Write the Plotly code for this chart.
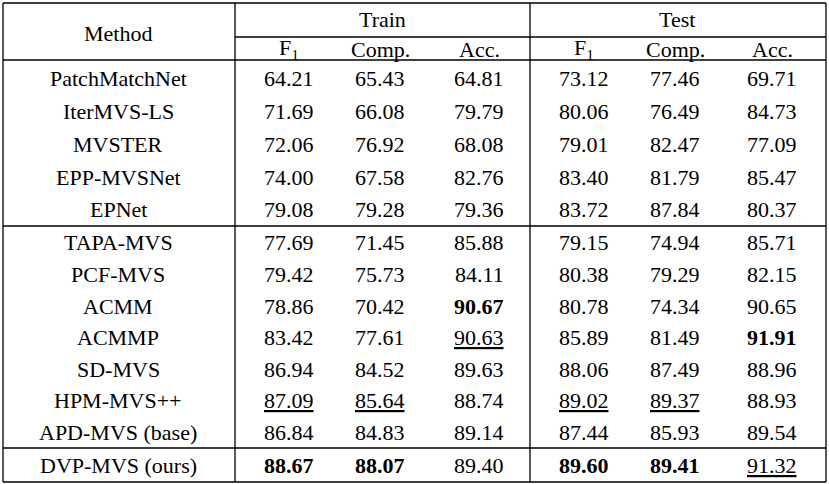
import plotly.graph_objects as go

methods = ["PatchMatchNet", "IterMVS-LS", "MVSTER", "EPP-MVSNet", "EPNet",
           "TAPA-MVS", "PCF-MVS", "ACMM", "ACMMP", "SD-MVS", "HPM-MVS++",
           "APD-MVS (base)", "DVP-MVS (ours)"]
train_f1 = [64.21, 71.69, 72.06, 74.00, 79.08, 77.69, 79.42, 78.86, 83.42, 86.94, 87.09, 86.84, 88.67]
train_comp = [65.43, 66.08, 76.92, 67.58, 79.28, 71.45, 75.73, 70.42, 77.61, 84.52, 85.64, 84.83, 88.07]
train_acc = [64.81, 79.79, 68.08, 82.76, 79.36, 85.88, 84.11, 90.67, 90.63, 89.63, 88.74, 89.14, 89.40]
test_f1 = [73.12, 80.06, 79.01, 83.40, 83.72, 79.15, 80.38, 80.78, 85.89, 88.06, 89.02, 87.44, 89.60]
test_comp = [77.46, 76.49, 82.47, 81.79, 87.84, 74.94, 79.29, 74.34, 81.49, 87.49, 89.37, 85.93, 89.41]
test_acc = [69.71, 84.73, 77.09, 85.47, 80.37, 85.71, 82.15, 90.65, 91.91, 88.96, 88.93, 89.54, 91.32]
columns = [train_f1, train_comp, train_acc, test_f1, test_comp, test_acc]
sub_headers = ["F<sub>1</sub>", "Comp.", "Acc.", "F<sub>1</sub>", "Comp.", "Acc."]
groups = ["Train", "Test"]

col_x = [289, 380, 479, 584, 675, 772]
row_y = [78, 111, 144, 177, 209, 242, 274, 306, 337, 369, 400, 432, 465]

FONT = dict(family="Liberation Serif, Times New Roman, serif", size=22, color="black")
fig = go.Figure()
ann = []

def add(x, y, t):
    ann.append(dict(x=x, y=y, text=t, xref="x", yref="y", showarrow=False,
                    font=FONT, xanchor="center", yanchor="middle"))

add(118, 33, "Method")
add(382, 19, groups[0])
add(677, 19, groups[1])
for x, h in zip(col_x, sub_headers):
    add(x, 49, h)

for ci, col in enumerate(columns):
    vals = col
    order = sorted(vals, reverse=True)
    best, second = order[0], order[1]
    for ri, v in enumerate(vals):
        t = f"{v:.2f}"
        if v == best:
            t = f"<b>{t}</b>"
        elif v == second:
            t = f"<u>{t}</u>"
        add(col_x[ci], row_y[ri], t)
for ri, m in enumerate(methods):
    add(118, row_y[ri], m)

shapes = []
def line(x0, y0, x1, y1):
    shapes.append(dict(type="line", x0=x0, y0=y0, x1=x1, y1=y1, xref="x", yref="y",
                       line=dict(color="black", width=1.3)))
for y in [3, 60, 226, 448, 482]:
    line(3, y, 826, y)
line(235, 37, 826, 37)
for x in [3, 235, 530, 826]:
    line(x, 3, x, 482)

fig.update_layout(width=829, height=484, margin=dict(l=0, r=0, t=0, b=0),
                  paper_bgcolor="white", plot_bgcolor="white",
                  annotations=ann, shapes=shapes,
                  xaxis=dict(range=[0, 829], visible=False, fixedrange=True),
                  yaxis=dict(range=[484, 0], visible=False, fixedrange=True),
                  showlegend=False)
fig.write_html("out.html", config={"displayModeBar": False},
               post_script="document.body.style.margin='0';document.body.style.overflow='hidden';")
